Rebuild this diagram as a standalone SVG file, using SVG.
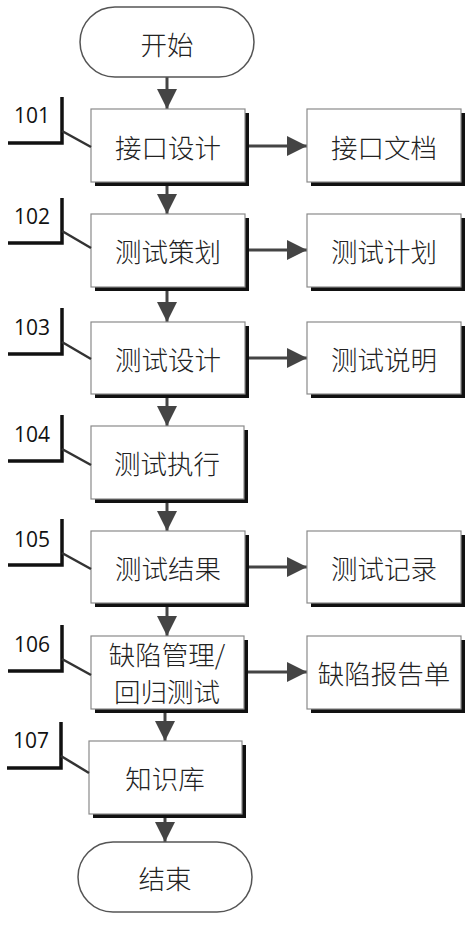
<svg xmlns="http://www.w3.org/2000/svg" width="474" height="934" viewBox="0 0 474 934">
<style>
.box{fill:#fff;stroke:#8a8a8a;stroke-width:1.2}
.sh{fill:#111}
.term{fill:#fff;stroke:#555;stroke-width:1.5}
.t{font-family:"Noto Sans CJK SC","Noto Sans",sans-serif;font-size:26.5px;fill:#222;text-anchor:middle;dominant-baseline:central;font-weight:300}
.lab{font-family:"Open Sans","Liberation Sans",sans-serif;font-size:21px;fill:#111}
.br{fill:none;stroke:#111;stroke-width:3.5}
.dg{stroke:#333;stroke-width:2.5}
.c{stroke:#444;stroke-width:3;fill:none;marker-end:url(#ah)}
</style>
<defs>
<marker id="ah" markerUnits="userSpaceOnUse" markerWidth="20" markerHeight="20" refX="20" refY="10" orient="auto">
<path d="M0,0 L20,10 L0,20 z" fill="#444"/>
</marker>
</defs>
<g id="connectors">
<line class="c" x1="167" y1="77" x2="167" y2="109"/>
<line class="c" x1="167" y1="182" x2="167" y2="214"/>
<line class="c" x1="167" y1="287" x2="167" y2="322"/>
<line class="c" x1="167" y1="394" x2="167" y2="426"/>
<line class="c" x1="167" y1="499" x2="167" y2="531"/>
<line class="c" x1="167" y1="603" x2="167" y2="636"/>
<line class="c" x1="165" y1="709" x2="165" y2="741"/>
<line class="c" x1="165" y1="814" x2="165" y2="842"/>
<line class="c" x1="245" y1="146" x2="307" y2="146"/>
<line class="c" x1="245" y1="250" x2="307" y2="250"/>
<line class="c" x1="245" y1="358" x2="307" y2="358"/>
<line class="c" x1="245" y1="567" x2="307" y2="567"/>
<line class="c" x1="245" y1="672" x2="307" y2="672"/>
</g>
<g id="start">
<rect class="term" x="80" y="7" width="174" height="70" rx="35"/>
<text class="t" x="167" y="43">开始</text>
</g>
<g id="n101">
<rect class="sh" x="95" y="113" width="154" height="73"/>
<rect class="box" x="91" y="109" width="154" height="73"/>
<text class="t" x="168" y="146">接口设计</text>
<path class="br" d="M62,97 V143 H8"/>
<line class="dg" x1="62" y1="131" x2="91" y2="147"/>
<text class="lab" x="14" y="123">101</text>
</g>
<g id="d101">
<rect class="sh" x="311" y="113" width="154" height="73"/>
<rect class="box" x="307" y="109" width="154" height="73"/>
<text class="t" x="384" y="146">接口文档</text>
</g>
<g id="n102">
<rect class="sh" x="95" y="218" width="154" height="73"/>
<rect class="box" x="91" y="214" width="154" height="73"/>
<text class="t" x="168" y="250">测试策划</text>
<path class="br" d="M62,198 V243 H8"/>
<line class="dg" x1="62" y1="231" x2="91" y2="248"/>
<text class="lab" x="14" y="224">102</text>
</g>
<g id="d102">
<rect class="sh" x="311" y="218" width="154" height="73"/>
<rect class="box" x="307" y="214" width="154" height="73"/>
<text class="t" x="384" y="250">测试计划</text>
</g>
<g id="n103">
<rect class="sh" x="95" y="326" width="154" height="72"/>
<rect class="box" x="91" y="322" width="154" height="72"/>
<text class="t" x="168" y="358">测试设计</text>
<path class="br" d="M62,308 V354 H8"/>
<line class="dg" x1="62" y1="342" x2="91" y2="359"/>
<text class="lab" x="14" y="335">103</text>
</g>
<g id="d103">
<rect class="sh" x="311" y="326" width="154" height="72"/>
<rect class="box" x="307" y="322" width="154" height="72"/>
<text class="t" x="384" y="358">测试说明</text>
</g>
<g id="n104">
<rect class="sh" x="95" y="430" width="153" height="73"/>
<rect class="box" x="91" y="426" width="153" height="73"/>
<text class="t" x="167" y="462">测试执行</text>
<path class="br" d="M62,415 V461 H8"/>
<line class="dg" x1="62" y1="449" x2="91" y2="465"/>
<text class="lab" x="14" y="442">104</text>
</g>
<g id="n105">
<rect class="sh" x="95" y="535" width="154" height="72"/>
<rect class="box" x="91" y="531" width="154" height="72"/>
<text class="t" x="168" y="567">测试结果</text>
<path class="br" d="M62,519 V565 H8"/>
<line class="dg" x1="62" y1="553" x2="91" y2="569"/>
<text class="lab" x="14" y="547">105</text>
</g>
<g id="d105">
<rect class="sh" x="311" y="535" width="154" height="72"/>
<rect class="box" x="307" y="531" width="154" height="72"/>
<text class="t" x="384" y="567">测试记录</text>
</g>
<g id="n106">
<rect class="sh" x="95" y="640" width="153" height="73"/>
<rect class="box" x="91" y="636" width="153" height="73"/>
<text class="t" x="167" y="653">缺陷管理/</text>
<text class="t" x="167" y="690">回归测试</text>
<path class="br" d="M62,625 V671 H8"/>
<line class="dg" x1="62" y1="659" x2="91" y2="675"/>
<text class="lab" x="14" y="652">106</text>
</g>
<g id="d106">
<rect class="sh" x="311" y="640" width="154" height="73"/>
<rect class="box" x="307" y="636" width="154" height="73"/>
<text class="t" x="384" y="672">缺陷报告单</text>
</g>
<g id="n107">
<rect class="sh" x="93" y="745" width="153" height="73"/>
<rect class="box" x="89" y="741" width="153" height="73"/>
<text class="t" x="165" y="777">知识库</text>
<path class="br" d="M61,722 V768 H7"/>
<line class="dg" x1="61" y1="756" x2="89" y2="773"/>
<text class="lab" x="13" y="748">107</text>
</g>
<g id="end">
<rect class="term" x="78" y="842" width="174" height="70" rx="35"/>
<text class="t" x="165" y="877">结束</text>
</g>
</svg>
